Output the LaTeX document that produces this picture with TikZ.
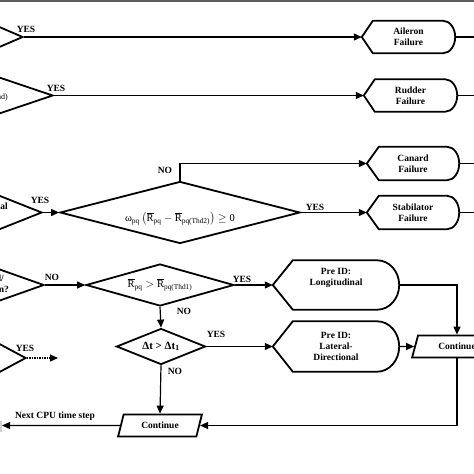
\documentclass[tikz,border=0pt]{standalone}
\usepackage{fontspec}
\usepackage{amsmath}
\setmainfont{Liberation Serif}
\usetikzlibrary{positioning,arrows.meta,shapes.geometric,calc}
\definecolor{framegray}{HTML}{5C5C5C}
\definecolor{edgegray}{HTML}{D0D0D0}

\begin{document}
\begin{tikzpicture}[x=1pt,y=-1pt,>={Triangle[length=8pt,width=7pt]}]
    \tikzset{
        decision/.style 2 args={
            diamond,
            draw,
            line width=1.8pt,
            inner sep=0pt,
            aspect=3,
            minimum width=#1,
            minimum height=#2,
            font=\fontsize{10.5}{12}\selectfont
        },
        dispbox/.style 2 args={
            minimum width=#1,
            minimum height=#2,
            inner sep=0pt,
            align=center,
            font=\fontsize{9.5}{11}\selectfont\bfseries
        },
        contbox/.style={
            trapezium,
            trapezium left angle=67,
            trapezium right angle=113,
            trapezium stretches=true,
            draw,
            line width=1.8pt,
            inner sep=0pt,
            minimum height=22pt,
            font=\fontsize{9.5}{11}\selectfont\bfseries
        },
        boxline/.style={line width=1.8pt, line join=miter},
        flowline/.style={line width=1.2pt},
        flowarrow/.style={->, line width=1.2pt},
        lab/.style={font=\fontsize{9.5}{11}\selectfont\bfseries, inner sep=0pt}
    }
    % outline: pointed left end, rounded right end
    \def\dispshape#1#2#3{%
        \draw[boxline] (#1.west) -- ([xshift=#2]#1.north west)
            -- ([xshift=-#3]#1.north east)
            .. controls ([xshift={-0.45*#3}]#1.north east) and ($(#1.east)!0.55!(#1.north east)$) .. (#1.east)
            .. controls ($(#1.east)!0.55!(#1.south east)$) and ([xshift={-0.45*#3}]#1.south east) .. ([xshift=-#3]#1.south east)
            -- ([xshift=#2]#1.south west) -- cycle;}

    \useasboundingbox (0,0) rectangle (474,474);
    \clip (0,0) rectangle (474,474);
    \fill[framegray] (0,0) rectangle (474,2);
    \fill[edgegray] (0,421) rectangle (2,432);

    % Beslutninger ved venstre kant (delvis utenfor)
    \node[decision={120pt}{52pt}] (chkail) at (-37,37) {};
    \node[decision={200pt}{68pt}] (chkrud) at (-47,95.5) {};
    \node[decision={140pt}{56pt}] (chklon) at (-28,212.5) {};
    \node[decision={140pt}{50pt}] (chklat) at (-26,285) {};
    \node[decision={100pt}{54pt}] (chkdot) at (-24,358) {};
    \node[font=\fontsize{8}{10}\selectfont, inner sep=0pt, anchor=east] (thdtxt) at (8,98) {pq(Thd)};
    \node[lab, anchor=east] (lontxt) at (8,207) {Longitudinal};
    \node[lab, anchor=east, align=center] (lattxt) at (9,284) {Lateral/\\Direction?};

    % Beslutninger i midten
    \node[decision={240pt}{62pt}] (omega) at (180,212.5) {};
    \node[font=\fontsize{10.5}{12}\selectfont, inner sep=0pt] (omegatxt) at (180,219)
        {$\text{ω}_{\text{pq}}\,\bigl(\overline{\text{R}}_{\text{pq}}-\overline{\text{R}}_{\text{pq(Thd2)}}\bigr)\geq\text{0}$};
    \node[decision={148pt}{42pt}] (rbar) at (160,285)
        {$\overline{\text{R}}_{\text{pq}}>\overline{\text{R}}_{\text{pq(Thd1)}}$};
    \node[decision={89pt}{36pt}, font=\fontsize{11}{12}\selectfont\bfseries] (dt) at (161,346.5)
        {Δt > Δt\textsubscript{1}};

    % Utfall
    \node[dispbox={93pt}{32pt}] (aileron) at (408.5,37) {Aileron\\Failure};
    \node[dispbox={93pt}{32pt}] (rudder) at (410.5,95.5) {Rudder\\Failure};
    \node[dispbox={92pt}{33pt}] (canard) at (413,163.5) {Canard\\Failure};
    \node[dispbox={92pt}{33pt}] (stabil) at (413,212.5) {Stabilator\\Failure};
    \node[dispbox={126pt}{49pt}, text depth=17pt] (prelon) at (336,285) {Pre ID:\\Longitudinal};
    \node[dispbox={126pt}{50pt}] (prelat) at (336,346.5) {Pre ID:\\Lateral-\\Directional};
    \dispshape{aileron}{11pt}{12pt}
    \dispshape{rudder}{11pt}{12pt}
    \dispshape{canard}{12pt}{12pt}
    \dispshape{stabil}{12pt}{12pt}
    \dispshape{prelon}{20pt}{22pt}
    \dispshape{prelat}{20pt}{22pt}

    \node[contbox, minimum width=84pt] (contl) at (160,425.5) {Continue};
    \node[contbox, minimum width=90pt] (contr) at (457,346.5) {Continue};

    % Frie ender
    \coordinate (outail) at (480,37);
    \coordinate (outrud) at (480,95.5);
    \coordinate (outcan) at (480,163.5);
    \coordinate (outsta) at (480,212.5);
    \coordinate (dotend) at (58,358);
    \coordinate (cpuend) at (2,425.5);

    % Piler
    \draw[flowarrow] (chkail.east) -- (aileron.west);
    \draw[flowarrow] (chkrud.east) -- (rudder.west);
    \draw[flowarrow] (chklon.east) -- (omega.west);
    \draw[flowarrow] (omega.north) |- (canard.west);
    \draw[flowarrow] (omega.east) -- (stabil.west);
    \draw[flowarrow] (chklat.east) -- (rbar.west);
    \draw[flowarrow] (rbar.east) -- (prelon.west);
    \draw[flowarrow] (rbar.south) -- (dt.north);
    \draw[flowarrow] (dt.east) -- (prelat.west);
    \draw[flowarrow] (dt.south) -- (contl.north);
    \draw[flowarrow] (prelon.east) -| (contr.north);
    \draw[flowarrow] (prelat.east) -- (contr.west);
    \draw[flowarrow] (contr.south) |- (contl.east);
    \draw[flowarrow] (contl.west) -- (cpuend);
    \draw[flowarrow, dash pattern=on 1.5pt off 1pt] (chkdot.east) -- (dotend);
    \draw[flowline] (aileron.east) -- (outail);
    \draw[flowline] (rudder.east) -- (outrud);
    \draw[flowline] (canard.east) -- (outcan);
    \draw[flowline] (stabil.east) -- (outsta);

    % Etiketter
    \node[lab] (yesail) at (26,29) {YES};
    \node[lab] (yesrud) at (56,88) {YES};
    \node[lab] (yeslon) at (40,200) {YES};
    \node[lab] (nolat) at (52,277) {NO};
    \node[lab] (yesdot) at (25,348) {YES};
    \node[lab] (nocan) at (165,170) {NO};
    \node[lab] (yessta) at (315,207) {YES};
    \node[lab] (yespre) at (242,279) {YES};
    \node[lab] (norbar) at (184,311) {NO};
    \node[lab] (yesdt) at (216,334) {YES};
    \node[lab] (nodt) at (175,371) {NO};
    \node[lab] (nextcpu) at (55,416) {Next CPU time step};
\end{tikzpicture}
\end{document}
